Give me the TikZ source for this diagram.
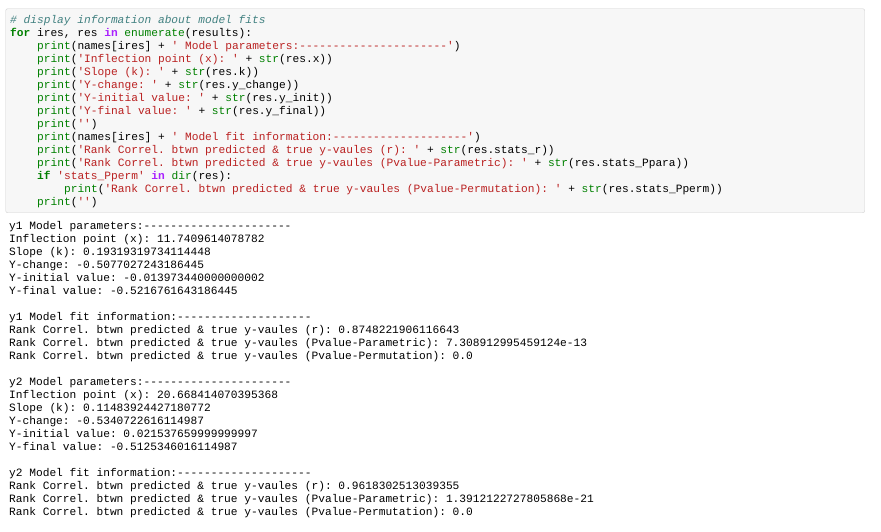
\documentclass[tikz,border=0pt]{standalone}
\usepackage{fontspec}
\setmonofont{Liberation Mono}
\definecolor{kwc}{HTML}{008000}
\definecolor{stc}{HTML}{BA2121}
\definecolor{cmc}{HTML}{408080}
\definecolor{inc}{HTML}{AA22FF}
\definecolor{boxbg}{HTML}{F7F7F7}
\definecolor{boxbd}{HTML}{CFCFCF}
\newcommand{\kw}[1]{\textcolor{kwc}{\bfseries #1}}
\newcommand{\bi}[1]{\textcolor{kwc}{#1}}
\newcommand{\st}[1]{\textcolor{stc}{#1}}
\newcommand{\cm}[1]{\textcolor{cmc}{\itshape #1}}
\newcommand{\inn}[1]{\textcolor{inc}{\bfseries #1}}
\tikzset{ln/.style={anchor=base west,inner sep=0pt,font=\fontsize{11.2}{13}\ttfamily}}
\begin{document}
\begin{tikzpicture}[x=1pt,y=-1pt]
\useasboundingbox (0,0) rectangle (881,531);
\fill[white] (0,0) rectangle (881,531);
\node[draw=boxbd,fill=boxbg,rounded corners=2pt,minimum width=859pt,minimum height=204pt,anchor=north west,inner sep=0pt] (cell) at (5.5,8.5) {};
\def\cx{10}\def\ix{37}\def\iix{64}
\node[ln] (c1) at (\cx,23) {\cm{\# display information about model fits}};
\node[ln] (c2) at (\cx,36) {\kw{for} ires, res \inn{in} \bi{enumerate}(results):};
\node[ln] (c3) at (\ix,49) {\bi{print}(names[ires] + \st{' Model parameters:----------------------'})};
\node[ln] (c4) at (\ix,62) {\bi{print}(\st{'Inflection point (x): '} + \bi{str}(res.x))};
\node[ln] (c5) at (\ix,75) {\bi{print}(\st{'Slope (k): '} + \bi{str}(res.k))};
\node[ln] (c6) at (\ix,88) {\bi{print}(\st{'Y-change: '} + \bi{str}(res.y\_change))};
\node[ln] (c7) at (\ix,101) {\bi{print}(\st{'Y-initial value: '} + \bi{str}(res.y\_init))};
\node[ln] (c8) at (\ix,114) {\bi{print}(\st{'Y-final value: '} + \bi{str}(res.y\_final))};
\node[ln] (c9) at (\ix,127) {\bi{print}(\st{''})};
\node[ln] (c10) at (\ix,140) {\bi{print}(names[ires] + \st{' Model fit information:--------------------'})};
\node[ln] (c11) at (\ix,153) {\bi{print}(\st{'Rank Correl. btwn predicted \& true y-vaules (r): '} + \bi{str}(res.stats\_r))};
\node[ln] (c12) at (\ix,166) {\bi{print}(\st{'Rank Correl. btwn predicted \& true y-vaules (Pvalue-Parametric): '} + \bi{str}(res.stats\_Ppara))};
\node[ln] (c13) at (\ix,179) {\kw{if} \st{'stats\_Pperm'} \inn{in} \bi{dir}(res):};
\node[ln] (c14) at (\iix,192) {\bi{print}(\st{'Rank Correl. btwn predicted \& true y-vaules (Pvalue-Permutation): '} + \bi{str}(res.stats\_Pperm))};
\node[ln] (c15) at (\ix,205) {\bi{print}(\st{''})};
\def\ox{9}
\node[ln] (o1) at (\ox,229) {y1 Model parameters:----------------------};
\node[ln] (o2) at (\ox,242) {Inflection point (x): 11.7409614078782};
\node[ln] (o3) at (\ox,255) {Slope (k): 0.19319319734114448};
\node[ln] (o4) at (\ox,268) {Y-change: -0.5077027243186445};
\node[ln] (o5) at (\ox,281) {Y-initial value: -0.013973440000000002};
\node[ln] (o6) at (\ox,294) {Y-final value: -0.5216761643186445};
\node[ln] (o7) at (\ox,320) {y1 Model fit information:--------------------};
\node[ln] (o8) at (\ox,333) {Rank Correl. btwn predicted \& true y-vaules (r): 0.8748221906116643};
\node[ln] (o9) at (\ox,346) {Rank Correl. btwn predicted \& true y-vaules (Pvalue-Parametric): 7.308912995459124e-13};
\node[ln] (o10) at (\ox,359) {Rank Correl. btwn predicted \& true y-vaules (Pvalue-Permutation): 0.0};
\node[ln] (o11) at (\ox,385) {y2 Model parameters:----------------------};
\node[ln] (o12) at (\ox,398) {Inflection point (x): 20.668414070395368};
\node[ln] (o13) at (\ox,411) {Slope (k): 0.11483924427180772};
\node[ln] (o14) at (\ox,424) {Y-change: -0.5340722616114987};
\node[ln] (o15) at (\ox,437) {Y-initial value: 0.021537659999999997};
\node[ln] (o16) at (\ox,450) {Y-final value: -0.5125346016114987};
\node[ln] (o17) at (\ox,476) {y2 Model fit information:--------------------};
\node[ln] (o18) at (\ox,489) {Rank Correl. btwn predicted \& true y-vaules (r): 0.9618302513039355};
\node[ln] (o19) at (\ox,502) {Rank Correl. btwn predicted \& true y-vaules (Pvalue-Parametric): 1.3912122727805868e-21};
\node[ln] (o20) at (\ox,515) {Rank Correl. btwn predicted \& true y-vaules (Pvalue-Permutation): 0.0};
\end{tikzpicture}
\end{document}
